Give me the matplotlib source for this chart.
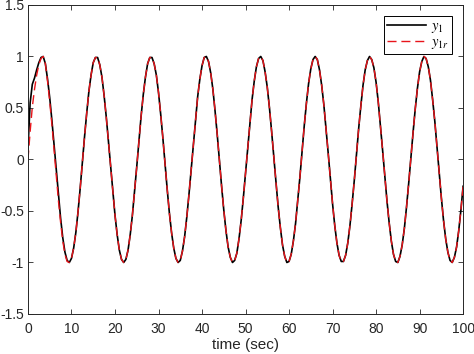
import numpy as np
import matplotlib.pyplot as plt

# samples, one every 0.5 s from 0 to 100 s
y1 = [0.10, 0.55, 0.73, 0.79, 0.87, 0.94, 0.99, 1.00, 0.93, 0.78, 0.60, 0.38, 0.14,
      -0.11, -0.35, -0.57, -0.76, -0.90, -0.98, -1.00, -0.96, -0.86, -0.71, -0.51, -0.28, -0.03,
      0.22, 0.45, 0.66, 0.82, 0.94, 0.99, 0.99, 0.92, 0.80, 0.62, 0.41, 0.17,
      -0.08, -0.32, -0.54, -0.73, -0.88, -0.97, -1.00, -0.97, -0.88, -0.73, -0.54, -0.31, -0.07,
      0.18, 0.42, 0.63, 0.80, 0.93, 0.99, 0.99, 0.93, 0.82, 0.65, 0.44, 0.21,
      -0.04, -0.29, -0.52, -0.71, -0.86, -0.96, -1.00, -0.98, -0.89, -0.75, -0.56, -0.34, -0.10,
      0.15, 0.39, 0.61, 0.78, 0.91, 0.99, 1.00, 0.95, 0.84, 0.68, 0.47, 0.24,
      -0.01, -0.26, -0.49, -0.69, -0.85, -0.95, -1.00, -0.98, -0.91, -0.77, -0.59, -0.37, -0.13,
      0.12, 0.36, 0.58, 0.76, 0.90, 0.98, 1.00, 0.96, 0.85, 0.70, 0.50, 0.27, 0.02,
      -0.22, -0.46, -0.66, -0.83, -0.94, -1.00, -0.99, -0.92, -0.79, -0.62, -0.40, -0.17,
      0.08, 0.33, 0.55, 0.74, 0.88, 0.97, 1.00, 0.97, 0.87, 0.72, 0.53, 0.30, 0.06,
      -0.19, -0.43, -0.64, -0.81, -0.93, -0.99, -0.99, -0.93, -0.81, -0.64, -0.43, -0.20,
      0.05, 0.30, 0.52, 0.72, 0.87, 0.96, 1.00, 0.97, 0.89, 0.75, 0.56, 0.33, 0.09,
      -0.16, -0.40, -0.61, -0.79, -0.92, -0.99, -1.00, -0.94, -0.83, -0.67, -0.46, -0.23,
      0.02, 0.26, 0.49, 0.69, 0.85, 0.95, 1.00, 0.98, 0.90, 0.77, 0.58, 0.37, 0.12,
      -0.13, -0.37, -0.59, -0.77, -0.90, -0.98, -1.00, -0.95, -0.85, -0.69, -0.49, -0.26]

# reference signal only differs during the first cycle
y1r_start = [0.00, 0.27, 0.51, 0.68, 0.82, 0.92, 0.98, 1.00, 0.93, 0.76, 0.56, 0.34, 0.09,
             -0.16, -0.40, -0.61, -0.79, -0.92, -0.99, -1.00]
y1r = y1r_start + y1[len(y1r_start):]

t = np.linspace(0, 100, len(y1))

x_ticks = list(range(0, 101, 10))
y_ticks = [-1.5, -1, -0.5, 0, 0.5, 1, 1.5]
y_tick_labels = ['-1.5', '-1', '-0.5', '0', '0.5', '1', '1.5']

plt.rcParams['font.family'] = ['Liberation Sans', 'DejaVu Sans']
plt.rcParams['mathtext.fontset'] = 'stix'

fig = plt.figure(figsize=(4.74, 3.54), dpi=100)
ax = fig.add_axes([0.059, 0.113, 0.918, 0.873])

ax.plot(t, y1, color='black', lw=1.2, label='$y_1$')
ax.plot(t, y1r, color='#e8141a', lw=1.0, dashes=(6.5, 3.5), label='$y_{1r}$')

ax.set_xlim(0, 100)
ax.set_ylim(-1.5, 1.5)
ax.set_xticks(x_ticks)
ax.set_xticklabels([str(v) for v in x_ticks])
ax.set_yticks(y_ticks)
ax.set_yticklabels(y_tick_labels)
ax.tick_params(direction='in', top=True, right=True, length=3.5, width=0.6,
               labelsize=10, colors='#262626', pad=3)
ax.tick_params(axis='x', pad=6)
for s in ax.spines.values():
    s.set_color('#262626')
    s.set_linewidth(0.7)

ax.set_xlabel('time (sec)', fontsize=11, color='#262626', labelpad=1)

leg = ax.legend(loc='upper right', fancybox=False, edgecolor='black', framealpha=1,
                fontsize=10.5, handlelength=2.7, borderaxespad=0.75, borderpad=0.2,
                labelspacing=0.0, handletextpad=0.35)
leg.get_frame().set_linewidth(0.7)

fig.savefig('out.png', dpi=100)
